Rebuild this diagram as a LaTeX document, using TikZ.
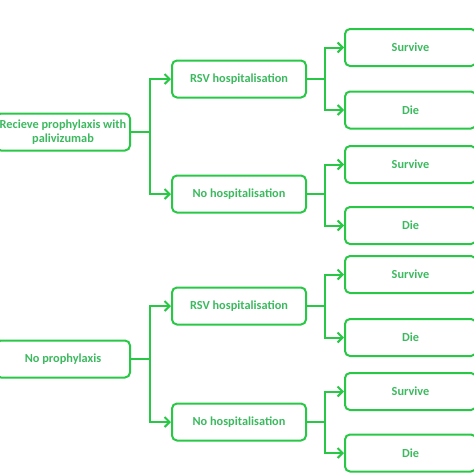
\documentclass[tikz,border=0pt]{standalone}
\usepackage{fontspec}
\setmainfont{Carlito}
\usetikzlibrary{arrows.meta}
\definecolor{gline}{RGB}{40,200,70}
\definecolor{gtext}{RGB}{60,185,95}
\begin{document}
\begin{tikzpicture}[x=1pt,y=-1pt,
  box/.style={draw=gline, line width=2pt, rounded corners=5pt, minimum width=134pt, minimum height=37pt, inner sep=0pt, align=center, text=gtext, font=\fontsize{12.3}{14}\selectfont\bfseries},
  wbox/.style={box, minimum width=131pt},
  conn/.style={draw=gline, line width=2pt},
  arr/.style={conn, -{Straight Barb[length=5pt,width=10pt,line width=2pt]}}]
\useasboundingbox (0,0) rectangle (474,474);
\node[box] (r1) at (63,132) {Recieve prophylaxis with\\palivizumab};
\node[box] (r2) at (63,359) {No prophylaxis};
\node[box] (h1) at (239,79) {RSV hospitalisation};
\node[box] (n1) at (239,194) {No hospitalisation};
\node[box] (h2) at (239,306) {RSV hospitalisation};
\node[box] (n2) at (239,422) {No hospitalisation};
\node[wbox] (s1) at (410.5,47.5) {Survive};
\node[wbox] (d1) at (410.5,110) {Die};
\node[wbox] (s2) at (410.5,164.5) {Survive};
\node[wbox] (d2) at (410.5,225.5) {Die};
\node[wbox] (s3) at (410.5,274.5) {Survive};
\node[wbox] (d3) at (410.5,337.5) {Die};
\node[wbox] (s4) at (410.5,391.5) {Survive};
\node[wbox] (d4) at (410.5,453) {Die};
\foreach \a/\b/\c/\x in {r1/h1/n1/150, r2/h2/n2/150, h1/s1/d1/325, n1/s2/d2/325, h2/s3/d3/325, n2/s4/d4/325}{
  \coordinate (j\a) at (\x,0 |- \a.east);
  \draw[conn] (\a.east) -- (j\a);
  \draw[arr] (j\a) |- (\b.west);
  \draw[arr] (j\a) |- (\c.west);
}
\end{tikzpicture}
\end{document}
